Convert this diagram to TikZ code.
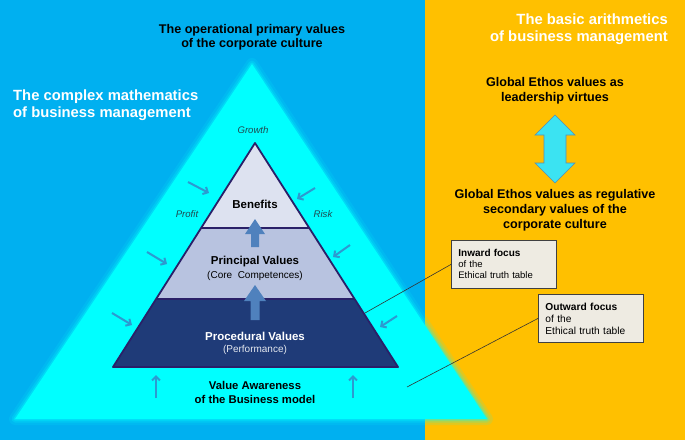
\documentclass[tikz,border=0pt]{standalone}
\usepackage{fontspec}
\setmainfont{Liberation Sans}
\usetikzlibrary{arrows.meta}
\definecolor{bgblue}{HTML}{00B0F0}
\definecolor{bgorange}{HTML}{FFC000}
\definecolor{tricyan}{HTML}{00FFFF}
\definecolor{layA}{HTML}{DDE2F0}
\definecolor{layB}{HTML}{B8C3E0}
\definecolor{layC}{HTML}{1F3B78}
\definecolor{pyredge}{HTML}{2A2068}
\definecolor{blockarrow}{HTML}{4F81BD}
\definecolor{smallarrow}{HTML}{2C9AD0}
\definecolor{boxfill}{HTML}{EEEBE2}
\definecolor{dblarrow}{HTML}{3BE3F2}
\definecolor{dblarrowedge}{HTML}{5A8FB0}
\definecolor{softtext}{HTML}{1F4A50}
\tikzset{
  bigtitle/.style={font=\fontsize{14.8}{16.5}\selectfont\bfseries, text=white, inner sep=0pt},
  headtext/.style={font=\fontsize{12.6}{14.5}\selectfont\bfseries, text=black, inner sep=0pt, align=center},
  layertitle/.style={font=\fontsize{11.5}{13}\selectfont\bfseries, inner sep=0pt},
  layersub/.style={font=\fontsize{10}{12}\selectfont, inner sep=0pt},
  sidelabel/.style={font=\fontsize{9.6}{11}\selectfont\itshape, text=softtext, inner sep=0pt},
  infobox/.style={draw=black!75, line width=0.8pt, fill=boxfill, align=left, anchor=north west,
     minimum width=105pt, minimum height=48pt, text width=91pt, inner xsep=7pt, inner ysep=4pt},
  smallarr/.style={draw=smallarrow, line width=2pt, -{Straight Barb[length=4pt,width=8pt]}},
  blockarr/.style={fill=blockarrow},
  callout/.style={draw=black!80, line width=0.6pt},
  layeredge/.style={draw=pyredge, line width=1.8pt, line join=round},
}
\begin{document}
\begin{tikzpicture}[x=1pt,y=-1pt]
\useasboundingbox (0,0) rectangle (685,440);
% backgrounds
\fill[bgblue] (0,0) rectangle (425,440);
\fill[bgorange] (425,0) rectangle (685,440);
% big cyan triangle with glow
\coordinate (TA) at (252,64);
\coordinate (TL) at (15,419);
\coordinate (TR) at (487,419);
\draw[tricyan, opacity=0.12, line width=12pt, line join=round] (TA) -- (TL) -- (TR) -- cycle;
\draw[tricyan, opacity=0.2, line width=7pt, line join=round] (TA) -- (TL) -- (TR) -- cycle;
\draw[tricyan, opacity=0.35, line width=3pt, line join=round] (TA) -- (TL) -- (TR) -- cycle;
\fill[tricyan] (TA) -- (TL) -- (TR) -- cycle;
% pyramid
\coordinate (P0) at (255,143);
\coordinate (L1) at (201,228);
\coordinate (R1) at (309,228);
\coordinate (L2) at (156,299);
\coordinate (R2) at (354,299);
\coordinate (L3) at (113,367);
\coordinate (R3) at (398,367);
\fill[layA] (P0) -- (L1) -- (R1) -- cycle;
\fill[layB] (L1) -- (L2) -- (R2) -- (R1) -- cycle;
\fill[layC] (L2) -- (L3) -- (R3) -- (R2) -- cycle;
\draw[layeredge] (P0) -- (L3) -- (R3) -- cycle;
\draw[layeredge] (L1) -- (R1);
\draw[layeredge] (L2) -- (R2);
% block arrows
\fill[blockarr] (255,219) -- (265,234) -- (259,234) -- (259,247) -- (251,247) -- (251,234) -- (245,234) -- cycle;
\fill[blockarr] (255,285) -- (266,301) -- (259.5,301) -- (259.5,320) -- (250.5,320) -- (250.5,301) -- (244,301) -- cycle;
% small arrows
\coordinate (a1s) at (188,182); \coordinate (a1e) at (209,193);
\coordinate (a2s) at (315,188); \coordinate (a2e) at (297,199);
\coordinate (a3s) at (147,252); \coordinate (a3e) at (167,264);
\coordinate (a4s) at (350,245); \coordinate (a4e) at (333,257);
\coordinate (a5s) at (112,313); \coordinate (a5e) at (132,325);
\coordinate (a6s) at (397,316); \coordinate (a6e) at (380,327);
\coordinate (a7s) at (156,398); \coordinate (a7e) at (156,375);
\coordinate (a8s) at (353,398); \coordinate (a8e) at (353,375);
\foreach \i in {1,...,8} {\draw[smallarr] (a\i s) -- (a\i e);}
% texts
\node[headtext] (opval) at (252,37) {The operational primary values\\of the corporate culture};
\node[bigtitle, anchor=west, align=left] (complex) at (13,105) {The complex mathematics\\of business management};
\node[bigtitle, anchor=east, align=right] (basic) at (668,29) {The basic arithmetics\\of business management};
\node[sidelabel] (growth) at (253,130) {Growth};
\node[sidelabel] (profit) at (187,214) {Profit};
\node[sidelabel] (risk) at (323,214) {Risk};
\node[layertitle] (benefits) at (255,204) {Benefits};
\node[layertitle] (principal) at (255,262) {Principal Values};
\node[layersub] (core) at (255,276) {(Core\ \ Competences)};
\node[layertitle, text=white] (procedural) at (255,336) {Procedural Values};
\node[layersub, text=white!88!layC] (perf) at (255,350) {(Performance)};
\node[font=\fontsize{11.3}{13.5}\selectfont\bfseries, align=center, inner sep=0pt] (aware) at (255,392.5) {Value Awareness\\of the Business model};
\node[headtext] (ethos1) at (555,90.5) {Global Ethos values as\\leadership virtues};
\node[headtext, font=\fontsize{12.6}{15}\selectfont\bfseries] (ethos2) at (555,210) {Global Ethos values as regulative\\secondary values of the\\corporate culture};
% double arrow
\filldraw[fill=dblarrow, draw=dblarrowedge, line width=0.6pt, line join=miter]
  (555,115) -- (575,135) -- (566,135) -- (566,163) -- (575,163) -- (555,183)
  -- (535,163) -- (544,163) -- (544,135) -- (535,135) -- cycle;
% info boxes
\node[infobox, font=\fontsize{9.5}{11}\selectfont] (inward) at (451,240) {{\bfseries\fontsize{10}{11}\selectfont Inward focus}\\of the\\Ethical truth table};
\node[infobox, font=\fontsize{10.2}{12}\selectfont] (outward) at (538,294) {{\bfseries Outward focus}\\of the\\Ethical truth table};
\coordinate (inend) at (365,313);
\coordinate (outend) at (407,387);
\draw[callout] (inward.west) -- (inend);
\draw[callout] (outward.west) -- (outend);
\end{tikzpicture}
\end{document}
